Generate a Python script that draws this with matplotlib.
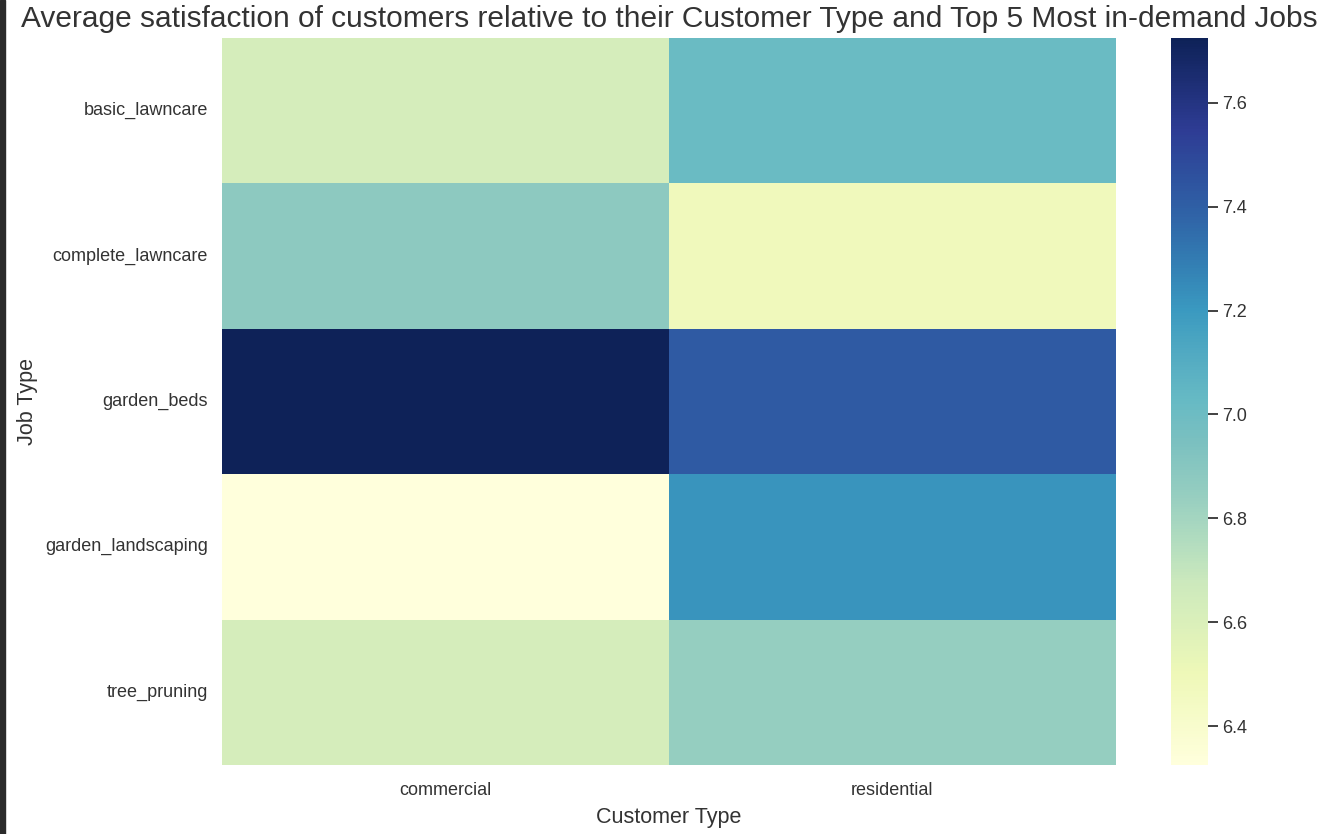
import numpy as np
import pandas as pd
import matplotlib
matplotlib.use('Agg')
import matplotlib.pyplot as plt
import seaborn as sns
from matplotlib.patches import Rectangle
from matplotlib.colors import ListedColormap, rgb_to_hsv, hsv_to_rgb

jobs = ['basic_lawncare', 'complete_lawncare', 'garden_beds',
        'garden_landscaping', 'tree_pruning']
customer_types = ['commercial', 'residential']
commercial = [6.63, 6.88, 7.725, 6.325, 6.63]
residential = [7.01, 6.48, 7.42, 7.22, 6.85]

sat = pd.DataFrame({'commercial': commercial, 'residential': residential},
                   index=jobs)
sat.index.name = 'Job Type'
sat.columns.name = 'Customer Type'

# the reference renders YlGnBu a bit washed out in the middle
t = np.linspace(0, 1, 256)
base = plt.get_cmap('YlGnBu')(t)[:, :3]
hsv = rgb_to_hsv(base)
hsv[:, 1] *= 0.92 - 0.22 * np.exp(-((t - 0.45) / 0.2) ** 2)
cmap = ListedColormap(hsv_to_rgb(hsv))

sns.set_theme(style='white')
plt.rcParams['font.family'] = ['Liberation Sans', 'DejaVu Sans']
txt = '#333333'
plt.rcParams['text.color'] = txt
plt.rcParams['axes.labelcolor'] = txt

fig = plt.figure(figsize=(13.22, 8.34), dpi=100)
ax = fig.add_axes([222 / 1322, 1 - 765 / 834, (1116 - 222) / 1322, (765 - 38) / 834])
cax = fig.add_axes([1171 / 1322, 1 - 765 / 834, 37 / 1322, (765 - 38) / 834])

sns.heatmap(sat, cmap=cmap, ax=ax, cbar_ax=cax)

ax.set_title('Average satisfaction of customers relative to their Customer Type and Top 5 Most in-demand Jobs',
             fontsize=21.5, pad=8, color=txt)
ax.set_xlabel('Customer Type', fontsize=15.5, labelpad=6)
ax.set_ylabel('Job Type', fontsize=15.5, labelpad=5)
ax.tick_params(axis='both', length=0, labelsize=13, colors=txt)
ax.tick_params(axis='y', pad=10)
ax.tick_params(axis='x', pad=12)
plt.setp(ax.get_yticklabels(), rotation=0)
cax.tick_params(labelsize=13, length=7, width=1.3, colors=txt)
cax.set_yticks([6.4, 6.6, 6.8, 7.0, 7.2, 7.4, 7.6])

# dark screenshot frame at the left edge
fig.patches.append(Rectangle((0, 0), 5 / 1322, 1, transform=fig.transFigure,
                             color='#2b2b2b', zorder=10))

fig.savefig('out.png', dpi=100)
